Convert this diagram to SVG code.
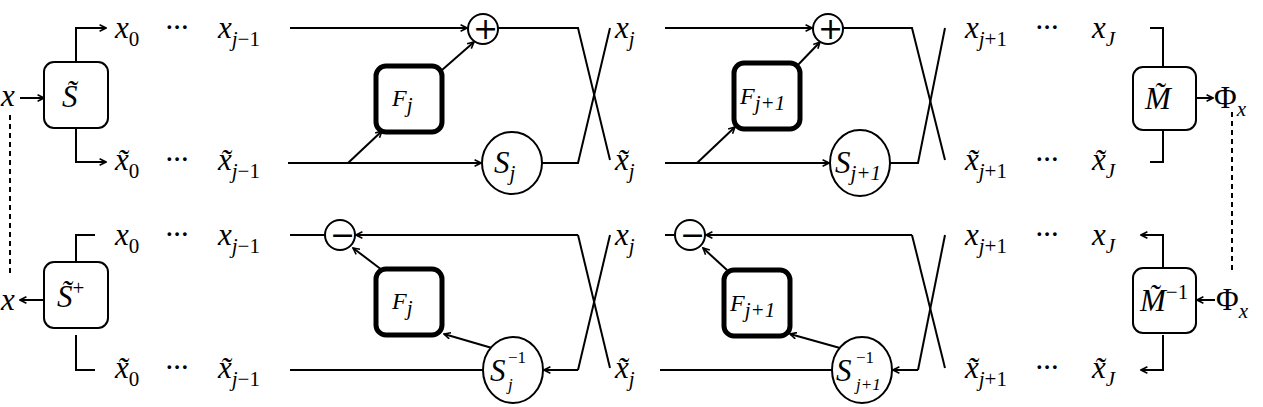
<svg xmlns="http://www.w3.org/2000/svg" width="1263" height="407" viewBox="0 0 1263 407">
<style>
.l{stroke:#000;stroke-width:2;fill:none}
.b{stroke:#000;stroke-width:2;fill:#fff}
.t{stroke:#000;stroke-width:5;fill:#fff}
.d{stroke:#000;stroke-width:2;stroke-dasharray:5,4;fill:none}
text{font-family:"Liberation Serif","DejaVu Serif",serif;font-style:italic;fill:#000}
.m{font-size:31px}
.s{font-size:21px;font-style:italic}
.ss{font-size:17px}
.u{font-style:normal}
.op{font-family:"DejaVu Sans",sans-serif;font-style:normal;font-size:30px}
</style>
<defs>
<marker id="a" viewBox="0 0 10 10" refX="9" refY="5" markerWidth="8" markerHeight="8" orient="auto-start-reverse" markerUnits="userSpaceOnUse"><path d="M1,1 L9,5 L1,9" fill="none" stroke="#000" stroke-width="2"/></marker>
</defs>
<g id="connectors">
<path class="l" d="M20,98 H44" marker-end="url(#a)"/>
<path class="l" d="M76,62 V28 H106" marker-end="url(#a)"/>
<path class="l" d="M76,128 V162 H106" marker-end="url(#a)"/>
<path class="l" d="M290,28 H467" marker-end="url(#a)"/>
<path class="l" d="M442,70 L474,42" marker-end="url(#a)"/>
<path class="l" d="M288,163 H481" marker-end="url(#a)"/>
<path class="l" d="M348,163 L382,131" marker-end="url(#a)"/>
<path class="l" d="M498,28 H578 L610,160"/>
<path class="l" d="M542,163 H578 L610,28"/>
<path class="l" d="M665,28 H812" marker-end="url(#a)"/>
<path class="l" d="M795,68 L820,42" marker-end="url(#a)"/>
<path class="l" d="M665,163 H829" marker-end="url(#a)"/>
<path class="l" d="M697,163 L735,127" marker-end="url(#a)"/>
<path class="l" d="M843,28 H912 L945,160"/>
<path class="l" d="M890,163 H918 L945,28"/>
<path class="l" d="M1150,28 H1163 V67"/>
<path class="l" d="M1150,162 H1163 V130"/>
<path class="l" d="M1196,98 H1213" marker-end="url(#a)"/>
<path class="d" d="M10,115 V275"/>
<path class="d" d="M1232,112 V272"/>
<path class="l" d="M44,300 H20" marker-end="url(#a)"/>
<path class="l" d="M95,235 H76 V262"/>
<path class="l" d="M95,370 H76 V335"/>
<path class="l" d="M290,235 H325"/>
<path class="l" d="M578,235 H356" marker-end="url(#a)"/>
<path class="l" d="M382,270 L353,248" marker-end="url(#a)"/>
<path class="l" d="M290,370 H483"/>
<path class="l" d="M492,348 L444,334" marker-end="url(#a)"/>
<path class="l" d="M578,235 L610,368"/>
<path class="l" d="M578,370 H544" marker-end="url(#a)"/>
<path class="l" d="M578,370 L610,235"/>
<path class="l" d="M665,235 H675"/>
<path class="l" d="M912,235 H706" marker-end="url(#a)"/>
<path class="l" d="M727,270 L703,248" marker-end="url(#a)"/>
<path class="l" d="M660,370 H832"/>
<path class="l" d="M840,348 L790,334" marker-end="url(#a)"/>
<path class="l" d="M912,235 L945,368"/>
<path class="l" d="M918,370 H893" marker-end="url(#a)"/>
<path class="l" d="M918,370 L945,235"/>
<path class="l" d="M1163,268 V235 H1141" marker-end="url(#a)"/>
<path class="l" d="M1163,335 V370 H1141" marker-end="url(#a)"/>
<path class="l" d="M1215,300 H1197" marker-end="url(#a)"/>
</g>
<g id="labels">
<text class="m" x="1" y="106">x</text>
<text class="m" x="1214" y="108"><tspan class="u">Φ</tspan><tspan class="s" dy="8">x</tspan></text>
<text class="m" x="1" y="310">x</text>
<text class="m" x="1216" y="310"><tspan class="u">Φ</tspan><tspan class="s" dy="8">x</tspan></text>
<text class="m" x="115" y="38">x<tspan class="s u" dy="8">0</tspan></text>
<text class="m" x="165" y="38">···</text>
<text class="m" x="218" y="38">x<tspan class="s" dy="8">j<tspan class="u">−1</tspan></tspan></text>
<text class="m" x="115" y="170">x̃<tspan class="s u" dy="8">0</tspan></text>
<text class="m" x="165" y="170">···</text>
<text class="m" x="218" y="170">x̃<tspan class="s" dy="8">j<tspan class="u">−1</tspan></tspan></text>
<text class="m" x="615" y="38">x<tspan class="s" dy="8">j</tspan></text>
<text class="m" x="615" y="170">x̃<tspan class="s" dy="8">j</tspan></text>
<text class="m" x="965" y="38">x<tspan class="s" dy="8">j<tspan class="u">+1</tspan></tspan></text>
<text class="m" x="1035" y="38">···</text>
<text class="m" x="1092" y="38">x<tspan class="s" dy="8">J</tspan></text>
<text class="m" x="965" y="170">x̃<tspan class="s" dy="8">j<tspan class="u">+1</tspan></tspan></text>
<text class="m" x="1035" y="170">···</text>
<text class="m" x="1092" y="170">x̃<tspan class="s" dy="8">J</tspan></text>
<text class="m" x="115" y="245">x<tspan class="s u" dy="8">0</tspan></text>
<text class="m" x="165" y="245">···</text>
<text class="m" x="218" y="245">x<tspan class="s" dy="8">j<tspan class="u">−1</tspan></tspan></text>
<text class="m" x="115" y="378">x̃<tspan class="s u" dy="8">0</tspan></text>
<text class="m" x="165" y="378">···</text>
<text class="m" x="218" y="378">x̃<tspan class="s" dy="8">j<tspan class="u">−1</tspan></tspan></text>
<text class="m" x="615" y="245">x<tspan class="s" dy="8">j</tspan></text>
<text class="m" x="615" y="378">x̃<tspan class="s" dy="8">j</tspan></text>
<text class="m" x="965" y="245">x<tspan class="s" dy="8">j<tspan class="u">+1</tspan></tspan></text>
<text class="m" x="1035" y="245">···</text>
<text class="m" x="1092" y="245">x<tspan class="s" dy="8">J</tspan></text>
<text class="m" x="965" y="378">x̃<tspan class="s" dy="8">j<tspan class="u">+1</tspan></tspan></text>
<text class="m" x="1035" y="378">···</text>
<text class="m" x="1092" y="378">x̃<tspan class="s" dy="8">J</tspan></text>
</g>
<g id="S_tilde"><rect class="b" x="44" y="62" width="64" height="66" rx="10"/><text class="m" x="62" y="107">S̃</text></g>
<g id="F_j_top"><rect class="t" x="376" y="66" width="66" height="66" rx="10"/><text x="392" y="106" font-size="24">F<tspan class="s" font-size="16" dy="6">j</tspan></text></g>
<g id="plus_1"><circle class="b" cx="483" cy="29" r="15"/><text class="op" x="473" y="39">+</text></g>
<g id="S_j"><ellipse class="b" cx="512" cy="163" rx="30" ry="31"/><text class="m" x="494" y="173">S<tspan class="s" dy="7">j</tspan></text></g>
<g id="F_j1_top"><rect class="t" x="734" y="63" width="66" height="66" rx="10"/><text x="740" y="104" font-size="24">F<tspan class="s" font-size="16" dy="6">j+1</tspan></text></g>
<g id="plus_2"><circle class="b" cx="828" cy="29" r="15"/><text class="op" x="818" y="39">+</text></g>
<g id="S_j1"><ellipse class="b" cx="860" cy="163" rx="30" ry="33"/><text class="m" x="835" y="173">S<tspan class="s" dy="7">j+1</tspan></text></g>
<g id="M_tilde"><rect class="b" x="1133" y="67" width="63" height="63" rx="10"/><text class="m" x="1145" y="109">M̃</text></g>
<g id="S_tilde_plus"><rect class="b" x="44" y="262" width="64" height="66" rx="10"/><text class="m" x="57" y="307">S̃<tspan class="s u" dy="-12">+</tspan></text></g>
<g id="minus_1"><circle class="b" cx="340" cy="235" r="15"/><text class="op" x="330" y="245">−</text></g>
<g id="F_j_bot"><rect class="t" x="376" y="269" width="66" height="66" rx="10"/><text x="392" y="309" font-size="24">F<tspan class="s" font-size="16" dy="6">j</tspan></text></g>
<g id="S_j_inv"><ellipse class="b" cx="513" cy="370" rx="30" ry="33"/><text class="m" x="490" y="381">S</text><text class="ss u" x="508" y="363">−1</text><text class="ss" x="508" y="390">j</text></g>
<g id="minus_2"><circle class="b" cx="690" cy="235" r="15"/><text class="op" x="680" y="245">−</text></g>
<g id="F_j1_bot"><rect class="t" x="724" y="270" width="66" height="66" rx="10"/><text x="730" y="311" font-size="24">F<tspan class="s" font-size="16" dy="6">j+1</tspan></text></g>
<g id="S_j1_inv"><ellipse class="b" cx="862" cy="370" rx="30" ry="33"/><text class="m" x="836" y="381">S</text><text class="ss u" x="856" y="363">−1</text><text class="ss" x="856" y="390">j+1</text></g>
<g id="M_tilde_inv"><rect class="b" x="1133" y="268" width="63" height="65" rx="10"/><text class="m" x="1140" y="311">M̃<tspan class="s u" dy="-12">−1</tspan></text></g>
</svg>
